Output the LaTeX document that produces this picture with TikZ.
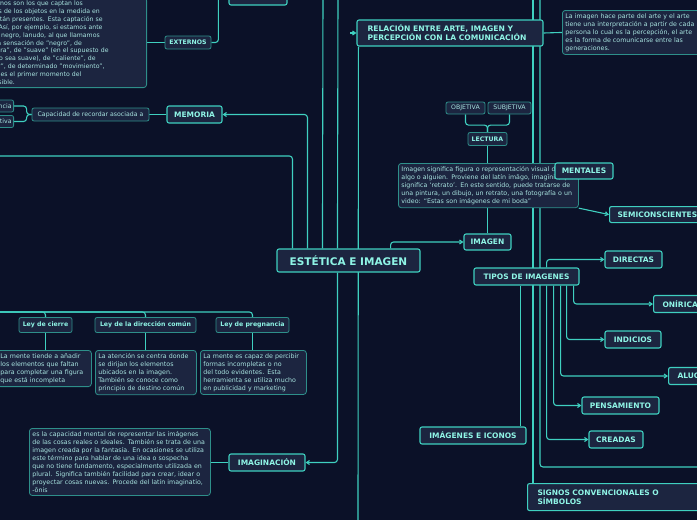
\documentclass[tikz,border=0pt]{standalone}
\usepackage{fontspec}
\setmainfont{DejaVu Sans}
\usetikzlibrary{arrows.meta}
\definecolor{bg}{HTML}{0B1128}
\definecolor{nf}{HTML}{1C2540}
\definecolor{tl}{HTML}{3FD0C0}
\definecolor{tl2}{HTML}{2E8F8A}
\definecolor{tx}{HTML}{8FF5E6}
\definecolor{lt}{HTML}{A8E4E0}
\pgfdeclarelayer{bgl}
\pgfdeclarelayer{mid}
\pgfsetlayers{bgl,mid,main}
\newcommand{\nohy}{\hyphenpenalty=10000\relax\exhyphenpenalty=10000\relax}
\tikzset{
 mainb/.style={draw=tl,line width=1.1pt,fill=nf,rounded corners=2pt,text=tx,font=\bfseries\fontsize{7.5}{8}\selectfont,inner sep=0pt},
 subb/.style={draw=tl2,line width=0.8pt,fill=nf,rounded corners=2pt,text=lt,font=\fontsize{6.2}{7}\selectfont,inner sep=0pt},
 descb/.style={draw=tl2,line width=0.8pt,fill=nf,rounded corners=3pt,text=lt,font=\fontsize{6.3}{8}\selectfont,execute at begin node=\nohy,align=left,inner sep=3pt},
 conn/.style={draw=tl,line width=1.1pt,rounded corners=3pt},
 arr/.style={conn,-{Straight Barb[length=3pt,width=4pt]}},
}
\begin{document}
\begin{tikzpicture}[x=1pt,y=-1pt]
\begin{pgfonlayer}{bgl}
\fill[bg] (0,0) rectangle (697,520);
\end{pgfonlayer}
\useasboundingbox (0,0) rectangle (697,520);
% free ends
\coordinate (fl) at (-5,156);
\coordinate (fb) at (-5,312);
\coordinate (t323) at (323,-5);
\coordinate (t338) at (338,-5);
\coordinate (b358) at (358,525);
\coordinate (t533) at (533,-5);
\coordinate (t540) at (540,-5);
\coordinate (r467) at (705,467);
% nodes
\node[mainb,font=\bfseries\fontsize{10.5}{12}\selectfont,minimum width=143pt,minimum height=23pt] (c) at (348.5,260.5) {ESTÉTICA E IMAGEN};
\node[mainb,align=left,minimum width=186pt,minimum height=26pt,font=\bfseries\fontsize{7.6}{9}\selectfont] (rel) at (450,33) {RELACIÓN ENTRE ARTE, IMAGEN Y\\PERCEPCIÓN CON LA COMUNICACIÓN\hspace*{6pt}};
\node[descb,anchor=north west,text width=138pt] (reld) at (562,10) {La imagen hace parte del arte y el arte tiene una interpretación a partir de cada persona lo cual es la percepción, el arte es la forma de comunicarse entre las generaciones.};
\node[subb,minimum width=39pt,minimum height=12pt] (obj) at (465.5,108) {OBJETIVA};
\node[subb,minimum width=43pt,minimum height=12pt] (subj) at (509.5,108) {SUBJETIVA};
\node[mainb,font=\bfseries\fontsize{6.2}{7}\selectfont,draw=tl2,line width=.8pt,minimum width=39pt,minimum height=13pt] (lec) at (487.5,139) {LECTURA};
\node[descb,anchor=north west,text width=174pt] (imgd) at (398,163) {Imagen significa figura o representación visual de algo o alguien. Proviene del latín imāgo, imagĭnis, que significa ‘retrato’. En este sentido, puede tratarse de una pintura, un dibujo, un retrato, una fotografía o un video: “Estas son imágenes de mi boda”};
\node[mainb,minimum width=58pt,minimum height=16pt] (ment) at (584,171) {MENTALES};
\node[mainb,anchor=north west,minimum width=100pt,minimum height=16pt,text width=92pt,align=left] (semi) at (609,206) {\hspace*{4pt}SEMICONSCIENTES};
\node[mainb,minimum width=47pt,minimum height=16pt] (imagen) at (487.5,242) {IMAGEN};
\node[mainb,minimum width=105pt,minimum height=17pt] (tipos) at (526.5,276.5) {TIPOS DE IMAGENES};
\node[mainb,minimum width=57pt,minimum height=17pt] (dir) at (633.5,259.5) {DIRECTAS};
\node[mainb,anchor=west,minimum width=60pt,minimum height=17pt,text width=52pt,align=left] (oni) at (653,304) {\hspace*{5pt}ONÍRICAS};
\node[mainb,minimum width=56pt,minimum height=17pt] (ind) at (633,339.5) {INDICIOS};
\node[mainb,anchor=west,minimum width=90pt,minimum height=17pt,text width=82pt,align=left] (aluc) at (668,376) {\hspace*{5pt}ALUCINACIONES};
\node[mainb,minimum width=77pt,minimum height=17pt] (pens) at (620.5,405.5) {PENSAMIENTO};
\node[mainb,minimum width=54pt,minimum height=17pt] (crea) at (616,439.5) {CREADAS};
\node[mainb,minimum width=106pt,minimum height=17pt] (icon) at (473,435.5) {IMÁGENES E ICONOS};
\node[mainb,anchor=north west,minimum width=180pt,minimum height=27pt,text width=170pt,align=left,font=\bfseries\fontsize{7.5}{8.5}\selectfont] (sig) at (527,483) {\hspace*{5pt}SIGNOS CONVENCIONALES O\\\hspace*{5pt}SÍMBOLOS};
\node[mainb,minimum width=55pt,minimum height=17pt] (mem) at (194.5,114.5) {MEMORIA};
\node[subb,minimum width=117pt,minimum height=13pt] (cap) at (90.5,114.5) {Capacidad de recordar asociada a};
\node[subb,anchor=east,minimum height=12pt,inner xsep=2pt] (ncia) at (14,106) {Inconsciencia};
\node[subb,anchor=east,minimum height=12pt,inner xsep=2pt] (tiva) at (14,121.5) {Afectiva};
\node[mainb,font=\bfseries\fontsize{6.2}{7}\selectfont,draw=tl2,line width=.8pt,minimum width=46pt,minimum height=13pt] (ext) at (188,42.5) {EXTERNOS};
\node[mainb,minimum width=58pt,minimum height=16pt] (sent) at (258,-3) {SENTIDOS};
\node[descb,anchor=south east,text width=200pt,font=\fontsize{6.2}{7.9}\selectfont] (topd) at (147,88) {Los sentidos externos son los que captan los\\
aspectos sensibles de los objetos en la medida en\\
que los objetos están presentes. Esta captación se\\
llama sensación. Así, por ejemplo, si estamos ante\\
un pequeño perro negro, lanudo, al que llamamos\\
Fido, tendremos la sensación de "negro", de\\
determinada "figura", de "suave" (en el supuesto de\\
que su pelo lanudo sea suave), de "caliente", de\\
determinado "olor", de determinado "movimiento",\\
etc. La sensación es el primer momento del\\
conocimiento sensible.};
\node[subb,font=\bfseries\fontsize{6.2}{7}\selectfont,text=tx,minimum width=53pt,minimum height=15pt] (l1) at (45.5,325) {Ley de cierre};
\node[subb,font=\bfseries\fontsize{6.2}{7}\selectfont,text=tx,minimum width=101pt,minimum height=15pt] (l2) at (145.5,325) {Ley de la dirección común};
\node[subb,font=\bfseries\fontsize{6.2}{7}\selectfont,text=tx,minimum width=73pt,minimum height=15pt] (l3) at (252.5,325) {Ley de pregnancia};
\node[descb,anchor=north west,text width=88pt] (d1) at (-3,350) {La mente tiende a añadir los elementos que faltan para completar una figura que está incompleta};
\node[descb,anchor=north west,text width=95pt] (d2) at (95,350) {La atención se centra donde se dirijan los elementos ubicados en la imagen. También se conoce como principio de destino común};
\node[descb,anchor=north west,text width=100pt] (d3) at (200,350) {La mente es capaz de percibir formas incompletas o no del todo evidentes. Esta herramienta se utiliza mucho en publicidad y marketing};
\node[mainb,minimum width=76pt,minimum height=17pt] (imag) at (267,462.5) {IMAGINACIÓN};
\node[descb,anchor=north west,text width=175pt] (imagd) at (29,428) {es la capacidad mental de representar las imágenes de las cosas reales o ideales. También se trata de una imagen creada por la fantasía. En ocasiones se utiliza este término para hablar de una idea o sospecha que no tiene fundamento, especialmente utilizada en plural. Significa también facilidad para crear, idear o proyectar cosas nuevas. Procede del latín imaginatio, -ōnis};
% connectors
\begin{pgfonlayer}{mid}
\draw[conn] ([xshift=16pt]c.north west) |- (fl);
\draw[arr] ([xshift=31pt]c.north west) |- (mem.east);
\draw[conn] ([xshift=46pt]c.north west) -- (t323);
\draw[conn] ([xshift=61pt]c.north west) -- (t338);
\draw[arr] ([xshift=61pt]c.south west) |- (imag.east);
\draw[conn] ([xshift=2pt]rel.south west) -- (b358);
\draw[arr] ([xshift=-6pt]rel.west) -- (rel.west);
\draw[conn] (rel.east) -- (reld.west);
\draw[arr] ([xshift=-30pt]c.north east) |- (imagen.west);
\draw[conn] (imagen.north) -- (imgd.south -| imagen);
\draw[conn] (imgd.north -| imagen) -- (lec.south);
\draw[conn] (lec.north) -- ++(0,-7) -| (obj.south);
\draw[conn] (lec.north) -- ++(0,-7) -| (subj.south);
\draw[arr] (imgd.south east) -- (semi.west);
\draw[conn] (t533) -- (sig.north -| t533);
\draw[conn] (t540) |- (r467);
\draw[conn] ([xshift=47pt]tipos.south west) -- ([xshift=47pt]tipos.south west |- icon.north);
\draw[arr] ([xshift=-33pt]tipos.north east) |- (dir.west);
\draw[arr] ([xshift=-33pt]tipos.south east) |- (crea.west);
\draw[arr] ([xshift=-26pt]tipos.south east) |- (pens.west);
\draw[arr] ([xshift=-19pt]tipos.south east) |- (aluc.west);
\draw[arr] ([xshift=-13pt]tipos.south east) |- (ind.west);
\draw[arr] ([xshift=-6pt]tipos.south east) |- (oni.west);
\draw[conn] (mem.west) -- (cap.east);
\draw[conn] (cap.west) -- ++(-5,0) |- (ncia.east);
\draw[conn] (cap.west) -- ++(-5,0) |- (tiva.east);
\draw[conn] (ext.west) -- (ext.west -| topd.east);
\draw[conn] (ext.east) -- ++(7,0) |- (sent.west);
\draw[conn] (fb) -| (l3.north);
\draw[conn] (fb) -| (l1.north);
\draw[conn] (fb) -| (l2.north);
\draw[conn] (l1.south) -- (d1.north -| l1);
\draw[conn] (l2.south) -- (d2.north -| l2);
\draw[conn] (l3.south) -- (d3.north -| l3);
\draw[conn] (imag.west) -- (imagd.east |- imag);
\end{pgfonlayer}
\end{tikzpicture}
\end{document}
